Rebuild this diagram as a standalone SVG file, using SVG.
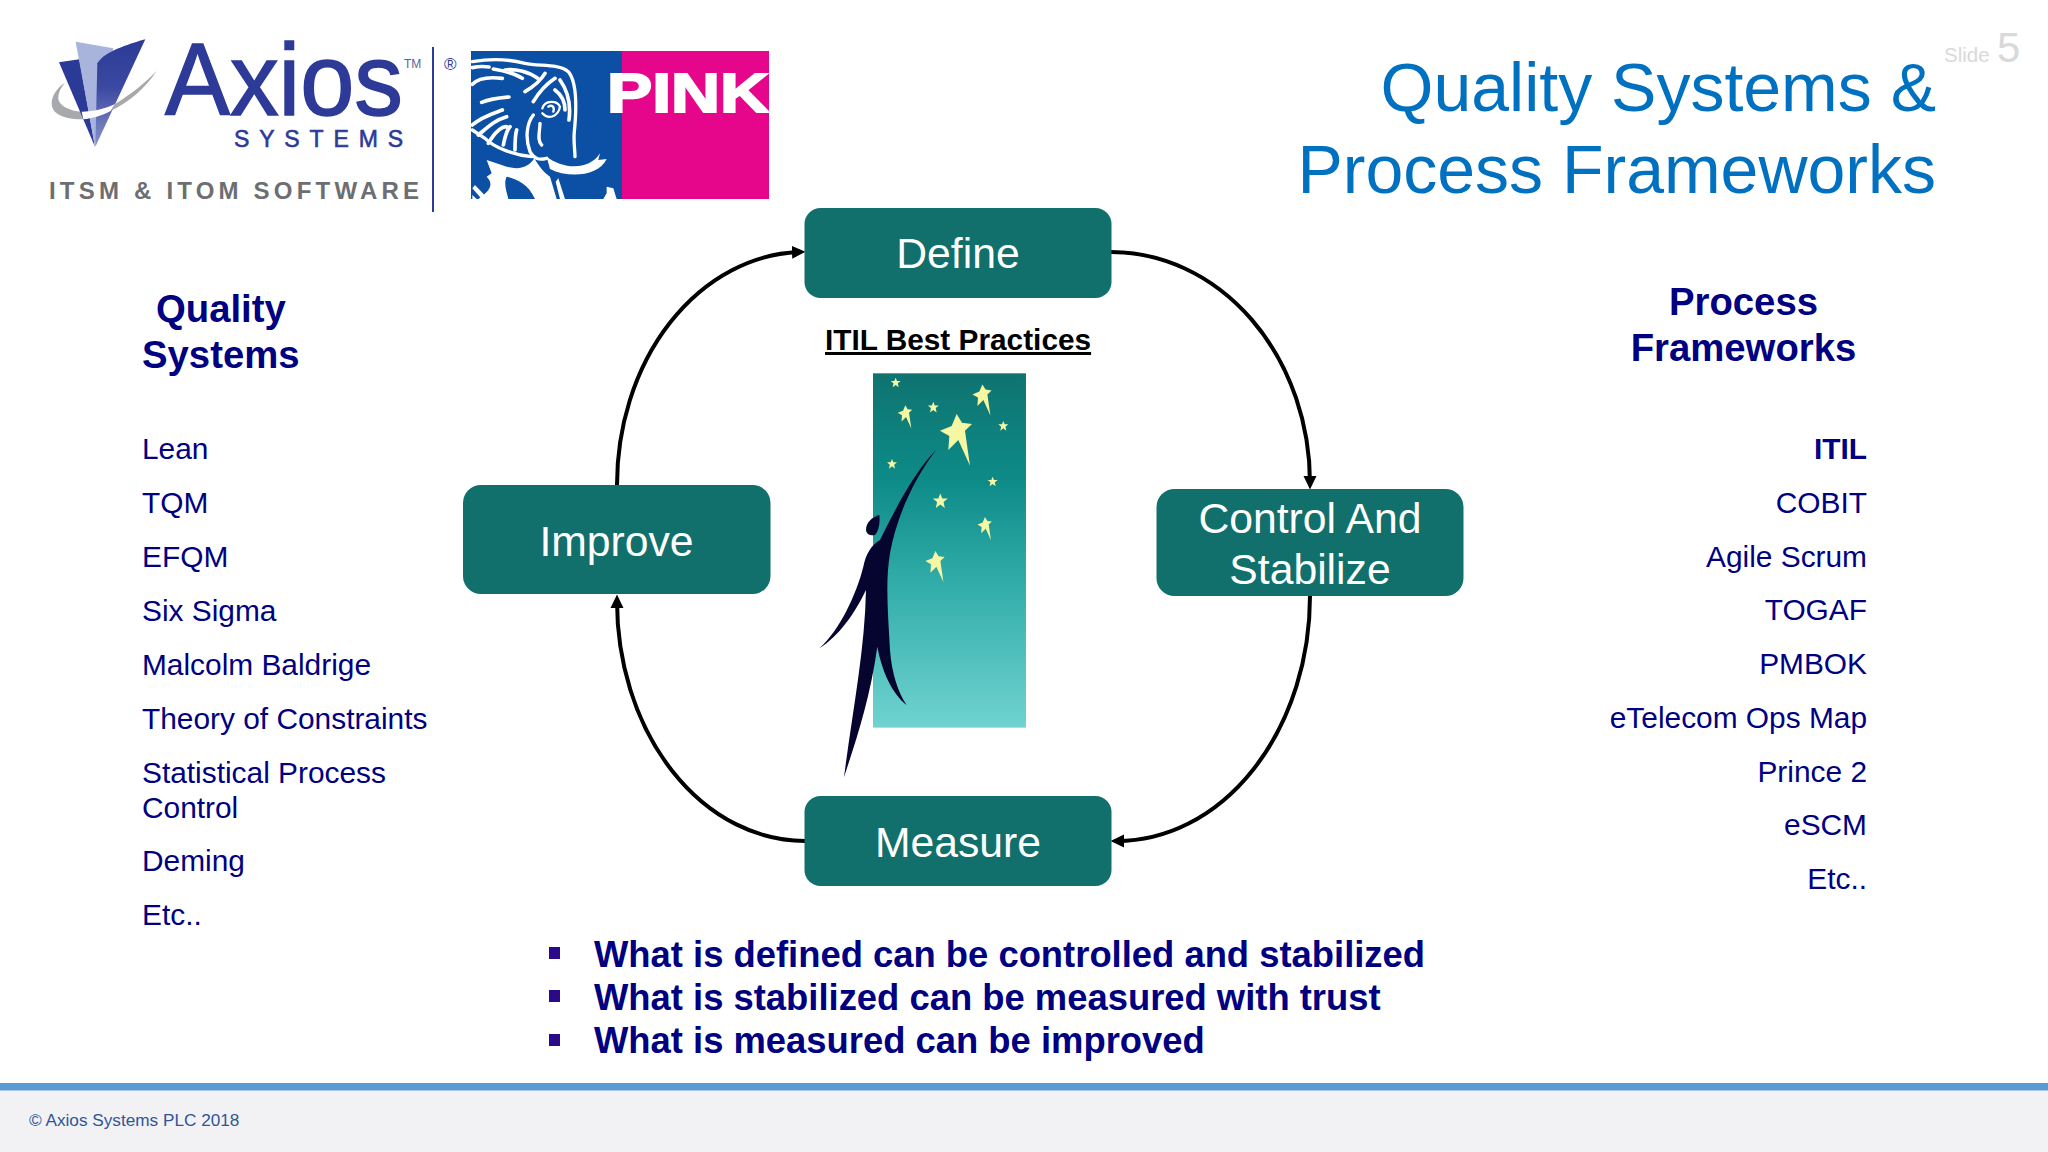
<svg xmlns="http://www.w3.org/2000/svg" xmlns:xlink="http://www.w3.org/1999/xlink" width="2048" height="1152" viewBox="0 0 2048 1152">
<style>
text{font-family:"Liberation Sans",Arial,sans-serif}
.box{fill:#12706c}
.bt{fill:#fff;font-size:42.700px;text-anchor:middle}
.li{fill:#000080;font-size:29.870px}
.r{text-anchor:end}
.h{fill:#000080;font-size:38.300px;font-weight:bold}
.b{fill:#000080;font-size:36.400px;font-weight:bold}
.tt{fill:#0070c0;font-size:68px;text-anchor:end}
.c{fill:none;stroke:#000;stroke-width:4}
.sq{fill:#2a0a8a}
.st{fill:#f6f7a2}
.e{fill:none;stroke:#fff;stroke-linecap:round;stroke-linejoin:round}
</style>
<defs>
<marker id="ah" markerUnits="userSpaceOnUse" markerWidth="14" markerHeight="14" refX="7" refY="7" orient="auto"><path d="M0,0.5L13.5,7L0,13.5Z" fill="#000"/></marker>
<linearGradient id="sky" x1="0" y1="0" x2="0" y2="1"><stop offset="0" stop-color="#0f7370"/><stop offset=".3" stop-color="#0d8b88"/><stop offset=".6" stop-color="#32adaa"/><stop offset="1" stop-color="#70d3d0"/></linearGradient>
<linearGradient id="fin" x1="0" y1="0" x2="0" y2="1"><stop offset="0" stop-color="#2b3a96"/><stop offset=".45" stop-color="#3b49a2"/><stop offset="1" stop-color="#8a93cc"/></linearGradient>
<polygon id="bigstar" points="2,-53 18,-27 48,-23 27,-3 42,102 7,25 -23,55 -20,13 -48,-3 -13,-17"/>
<polygon id="smallstar" points="0,-15 4,-5 15,-5 6.500,2 9,14 0,7 -9,14 -6.500,2 -15,-5 -4,-5"/>
</defs>
<rect width="2048" height="1152" fill="#fff"/>
<rect y="1090" width="2048" height="62" fill="#f2f2f5"/>
<rect y="1083" width="2048" height="7.500" fill="#5b9bd5"/>
<text x="29" y="1126" font-size="17.200" fill="#2f5597">© Axios Systems PLC 2018</text>

<g id="logo-axios">
<g transform="translate(40,30) scale(.3333)">
<path d="M75,158C40,180 20,225 50,250C75,268 110,268 130,268L125,245C90,245 55,225 55,205C55,185 65,170 75,158Z" fill="#a7a9ac"/>
<polygon points="57,97 118,88 165,350" fill="#2b3a96"/>
<polygon points="107,35 220,55 165,350" fill="#a9b4dc"/>
<path d="M316,28C240,50 190,70 172,100L166,350Z" fill="url(#fin)"/>
<path d="M125,245C160,245 200,235 225,222L212,243C185,258 155,265 130,268Z" fill="#fff"/>
<path d="M225,222C270,195 320,155 350,122C320,170 270,215 212,243Z" fill="#a7a9ac"/>
</g>
<text x="165" y="115" font-size="102" fill="#2e3a97" stroke="#2e3a97" stroke-width="1.500" textLength="238" lengthAdjust="spacingAndGlyphs">Axios</text>
<text x="404" y="68" font-size="12" fill="#5a5f9e">TM</text>
<text x="234" y="147" font-size="23" fill="#2e3a97" stroke="#2e3a97" stroke-width=".6" textLength="169" lengthAdjust="spacing">SYSTEMS</text>
<text x="49" y="199" font-size="24" font-weight="bold" fill="#6d6e71" textLength="370" lengthAdjust="spacing">ITSM &amp; ITOM SOFTWARE</text>
<rect x="432" y="47" width="2" height="165" fill="#2e3a97"/>
<text x="444" y="70" font-size="17" fill="#2e3a97">®</text>
</g>

<g id="logo-pink">
<rect x="471" y="51" width="152" height="148" fill="#0b50a5"/>
<rect x="622" y="51" width="147" height="148" fill="#e5068c"/>
<g transform="translate(465,45) scale(.3333)">
<path class="e" stroke-width="10" d="M22,50C70,42 130,42 180,55C220,65 280,55 310,80C335,110 335,190 328,260C325,290 330,315 330,335"/>
<path class="e" stroke-width="11" d="M22,68C40,64 60,64 72,66M85,72C120,78 150,85 172,100M120,75C150,70 190,80 218,100M22,118C40,98 70,95 112,100M50,172C80,160 110,158 132,156M22,240C50,215 85,205 112,195M40,270C70,245 90,225 125,215M70,295C85,270 105,245 125,245M115,300C120,275 125,255 135,245M150,315C150,290 150,270 155,255M180,140C205,125 225,110 240,85M205,170C220,145 240,120 270,100M285,105C310,140 318,180 312,225M270,135C290,150 300,170 300,195"/>
<path class="e" stroke-width="7" d="M232,190C240,165 275,165 285,185C280,215 250,225 232,205M250,185C260,178 270,185 265,200"/>
<path class="e" stroke-width="10" d="M205,210C185,235 180,280 195,320C210,345 225,345 245,340M225,235C225,260 215,285 230,300M22,255L60,280C90,310 150,330 200,335"/>
<path d="M245,335C290,370 370,380 405,325L400,345L425,342C400,395 310,400 255,372Z" fill="#fff"/>
<path d="M65,345L110,360C150,375 185,375 208,340C225,370 240,385 255,395L275,462H40C70,440 90,420 65,395L80,385Z" fill="#fff"/>
<path d="M30,420L70,462H50L22,430ZM22,450L35,462H22Z" fill="#fff"/>
<path d="M125,395C150,400 190,415 210,462H130C125,440 115,415 125,395Z" fill="#0b50a5"/>
<path d="M280,400L300,462H285L272,410ZM425,425L445,430L455,462H415L425,445Z" fill="#fff"/>
</g>
<text x="607" y="112" font-size="56" font-weight="bold" fill="#fff" stroke="#fff" stroke-width="2" textLength="162" lengthAdjust="spacingAndGlyphs">PINK</text>
</g>

<g id="title">
<text class="tt" x="1936" y="111">Quality Systems &amp;</text>
<text class="tt" x="1936" y="193">Process Frameworks</text>
</g>
<g id="slide-number" fill="#d9d9d9">
<text x="1944" y="62" font-size="20.500">Slide</text>
<text x="1997" y="62" font-size="42">5</text>
</g>

<g id="quality-list">
<text class="h" x="156" y="322">Quality</text>
<text class="h" x="142" y="368">Systems</text>
<text class="li" x="142" y="459">Lean</text>
<text class="li" x="142" y="512.500">TQM</text>
<text class="li" x="142" y="566.500">EFQM</text>
<text class="li" x="142" y="620.500">Six Sigma</text>
<text class="li" x="142" y="674.500">Malcolm Baldrige</text>
<text class="li" x="142" y="728.500">Theory of Constraints</text>
<text class="li" x="142" y="782.500">Statistical Process</text>
<text class="li" x="142" y="818">Control</text>
<text class="li" x="142" y="871">Deming</text>
<text class="li" x="142" y="925">Etc..</text>
</g>

<g id="process-list">
<text class="h" x="1743.500" y="315" text-anchor="middle">Process</text>
<text class="h" x="1743.500" y="361" text-anchor="middle">Frameworks</text>
<text class="li r" x="1867" y="459" font-weight="bold">ITIL</text>
<text class="li r" x="1867" y="512.600">COBIT</text>
<text class="li r" x="1867" y="566.700">Agile Scrum</text>
<text class="li r" x="1867" y="620.400">TOGAF</text>
<text class="li r" x="1867" y="674.100">PMBOK</text>
<text class="li r" x="1867" y="727.800">eTelecom Ops Map</text>
<text class="li r" x="1867" y="781.500">Prince 2</text>
<text class="li r" x="1867" y="835.200">eSCM</text>
<text class="li r" x="1867" y="889">Etc..</text>
</g>

<g id="connectors">
<path class="c" marker-end="url(#ah)" d="M617,485A188,233 0 0 1 799,252"/>
<path class="c" marker-end="url(#ah)" d="M1111,252A199,231 0 0 1 1310,483"/>
<path class="c" marker-end="url(#ah)" d="M1310,596A193,245 0 0 1 1117,841"/>
<path class="c" marker-end="url(#ah)" d="M805,841A188,240 0 0 1 617,601"/>
</g>

<g id="node-define"><rect class="box" x="804.500" y="208" width="307" height="90" rx="16"/><text class="bt" x="958" y="268">Define</text></g>
<g id="node-control"><rect class="box" x="1156.500" y="489" width="307" height="107" rx="18"/><text class="bt" x="1310" y="533">Control And</text><text class="bt" x="1310" y="584">Stabilize</text></g>
<g id="node-measure"><rect class="box" x="804.500" y="796" width="307" height="90" rx="16"/><text class="bt" x="958" y="857">Measure</text></g>
<g id="node-improve"><rect class="box" x="463" y="485" width="307.500" height="109" rx="18"/><text class="bt" x="616.500" y="556">Improve</text></g>

<g id="center-figure">
<text x="825" y="350" font-size="29.800" font-weight="bold" fill="#000" text-decoration="underline">ITIL Best Practices</text>
<g transform="translate(780,300) scale(.3333)">
<rect x="279" y="220" width="459" height="1063" fill="url(#sky)"/>
<g class="st">
<use xlink:href="#bigstar" href="#bigstar" transform="translate(528,395)"/>
<use xlink:href="#bigstar" href="#bigstar" transform="translate(606,285) scale(.6)"/>
<use xlink:href="#bigstar" href="#bigstar" transform="translate(375,340) scale(.45)"/>
<use xlink:href="#bigstar" href="#bigstar" transform="translate(614,675) scale(.45)"/>
<use xlink:href="#bigstar" href="#bigstar" transform="translate(465,785) scale(.6)"/>
<use xlink:href="#smallstar" href="#smallstar" transform="translate(347,248)"/>
<use xlink:href="#smallstar" href="#smallstar" transform="translate(460,322) scale(1.1)"/>
<use xlink:href="#smallstar" href="#smallstar" transform="translate(670,378)"/>
<use xlink:href="#smallstar" href="#smallstar" transform="translate(336,492)"/>
<use xlink:href="#smallstar" href="#smallstar" transform="translate(638,545)"/>
<use xlink:href="#smallstar" href="#smallstar" transform="translate(481,603) scale(1.5)"/>
</g>
<path fill="#05052f" d="M468,450C400,540 350,650 330,760C315,850 325,950 330,1050C335,1120 355,1180 380,1215C335,1180 305,1110 292,1040C270,1200 225,1330 192,1432C215,1250 255,1050 258,870C225,940 175,1010 118,1045C180,990 230,880 250,800C258,760 275,735 300,720C350,620 400,520 468,450Z"/>
<path fill="#05052f" d="M298,645C280,650 258,665 258,690C260,705 275,708 285,705C298,690 300,665 298,645Z"/>
</g>
</g>

<g id="bullets">
<rect class="sq" x="549" y="947" width="11" height="12"/>
<rect class="sq" x="549" y="990" width="11" height="12"/>
<rect class="sq" x="549" y="1034" width="11" height="12"/>
<text class="b" x="594" y="966.500">What is defined can be controlled and stabilized</text>
<text class="b" x="594" y="1009.500">What is stabilized can be measured with trust</text>
<text class="b" x="594" y="1053">What is measured can be improved</text>
</g>
</svg>
